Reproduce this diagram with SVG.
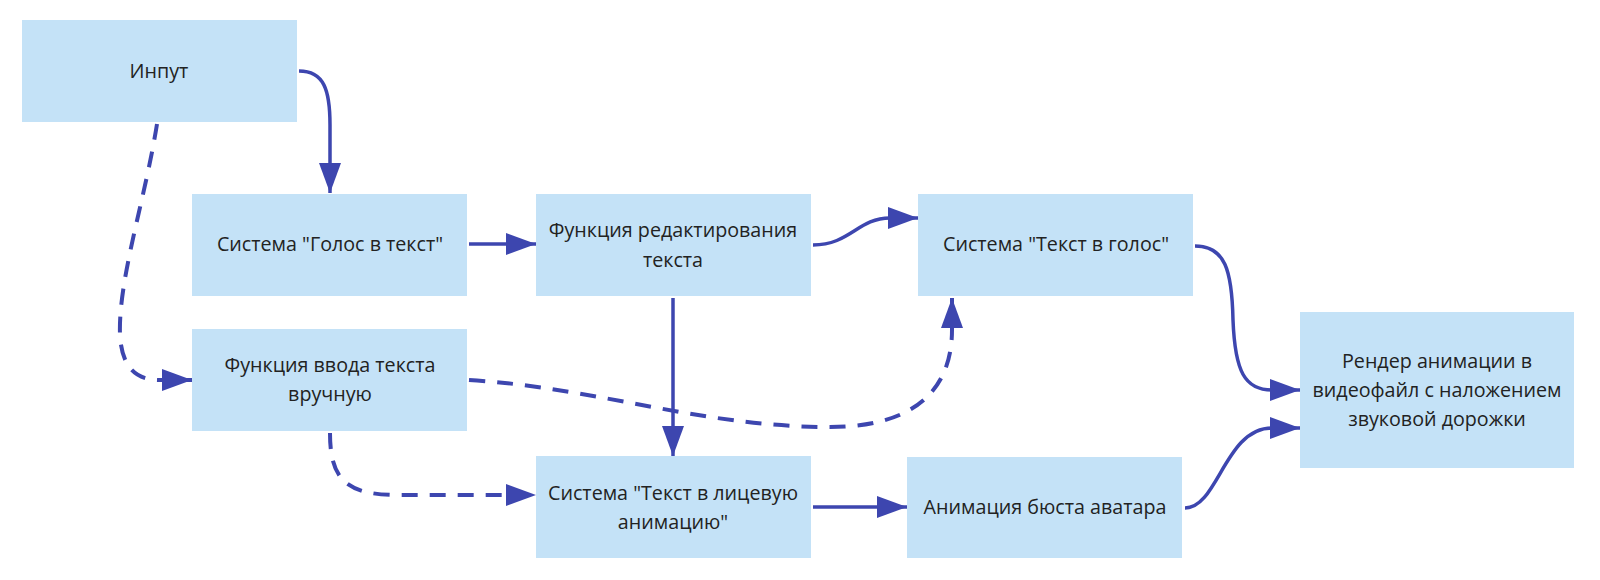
<svg xmlns="http://www.w3.org/2000/svg" width="1600" height="580" viewBox="0 0 1600 580">
<defs>
<style>
.box{fill:#C4E2F7}
.t{font-family:"Open Sans","Noto Sans",sans-serif;font-size:19.7px;fill:#222;text-anchor:middle}
.c{fill:none;stroke:#3D46AF;stroke-width:3.5}
.d{stroke-width:4;stroke-dasharray:16 12}
</style>
<marker id="ah" markerUnits="userSpaceOnUse" markerWidth="30" markerHeight="22" refX="30" refY="11" orient="auto">
<path d="M0,0 L30,11 L0,22 z" fill="#3D46AF"/>
</marker>
</defs>
<rect width="1600" height="580" fill="#fff"/>
<g id="connectors">
<path class="c" d="M299,71 C324,71 330,90 330,125 L330,193" marker-end="url(#ah)"/>
<path class="c d" d="M157,124 C145,200 118,280 120,335 C122,372 140,380 160,380 L192,380" marker-end="url(#ah)"/>
<path class="c" d="M469,244 L536,244" marker-end="url(#ah)"/>
<path class="c" d="M813,245 C850,245 858,218 890,218 L918,218" marker-end="url(#ah)"/>
<path class="c" d="M673,298 L673,456" marker-end="url(#ah)"/>
<path class="c d" d="M469,380 C600,388 700,427 830,427 C920,427 952,385 952,330 L952,298" marker-end="url(#ah)"/>
<path class="c d" d="M330,433 C330,482 348,495 400,495 L536,495" marker-end="url(#ah)"/>
<path class="c" d="M813,507 L907,507" marker-end="url(#ah)"/>
<path class="c" d="M1195,246 C1225,246 1232,270 1233,320 C1235,372 1245,390 1272,390 L1300,390" marker-end="url(#ah)"/>
<path class="c" d="M1185,508 C1218,508 1225,428 1272,428 L1300,428" marker-end="url(#ah)"/>
</g>
<g id="n-input"><rect class="box" x="22" y="20" width="275" height="102"/><text class="t" x="159" y="78">Инпут</text></g>
<g id="n-stt"><rect class="box" x="192" y="194" width="275" height="102"/><text class="t" x="330" y="251">Система "Голос в текст"</text></g>
<g id="n-edit"><rect class="box" x="536" y="194" width="275" height="102"/><text class="t" x="673" y="237">Функция редактирования</text><text class="t" x="673" y="267">текста</text></g>
<g id="n-tts"><rect class="box" x="918" y="194" width="275" height="102"/><text class="t" x="1056" y="251">Система "Текст в голос"</text></g>
<g id="n-render"><rect class="box" x="1300" y="312" width="274" height="156"/><text class="t" x="1437" y="368">Рендер анимации в</text><text class="t" x="1437" y="397">видеофайл с наложением</text><text class="t" x="1437" y="426">звуковой дорожки</text></g>
<g id="n-manual"><rect class="box" x="192" y="329" width="275" height="102"/><text class="t" x="330" y="372">Функция ввода текста</text><text class="t" x="330" y="401">вручную</text></g>
<g id="n-face"><rect class="box" x="536" y="456" width="275" height="102"/><text class="t" x="673" y="500">Система "Текст в лицевую</text><text class="t" x="673" y="529">анимацию"</text></g>
<g id="n-bust"><rect class="box" x="907" y="457" width="275" height="101"/><text class="t" x="1045" y="514">Анимация бюста аватара</text></g>
</svg>
